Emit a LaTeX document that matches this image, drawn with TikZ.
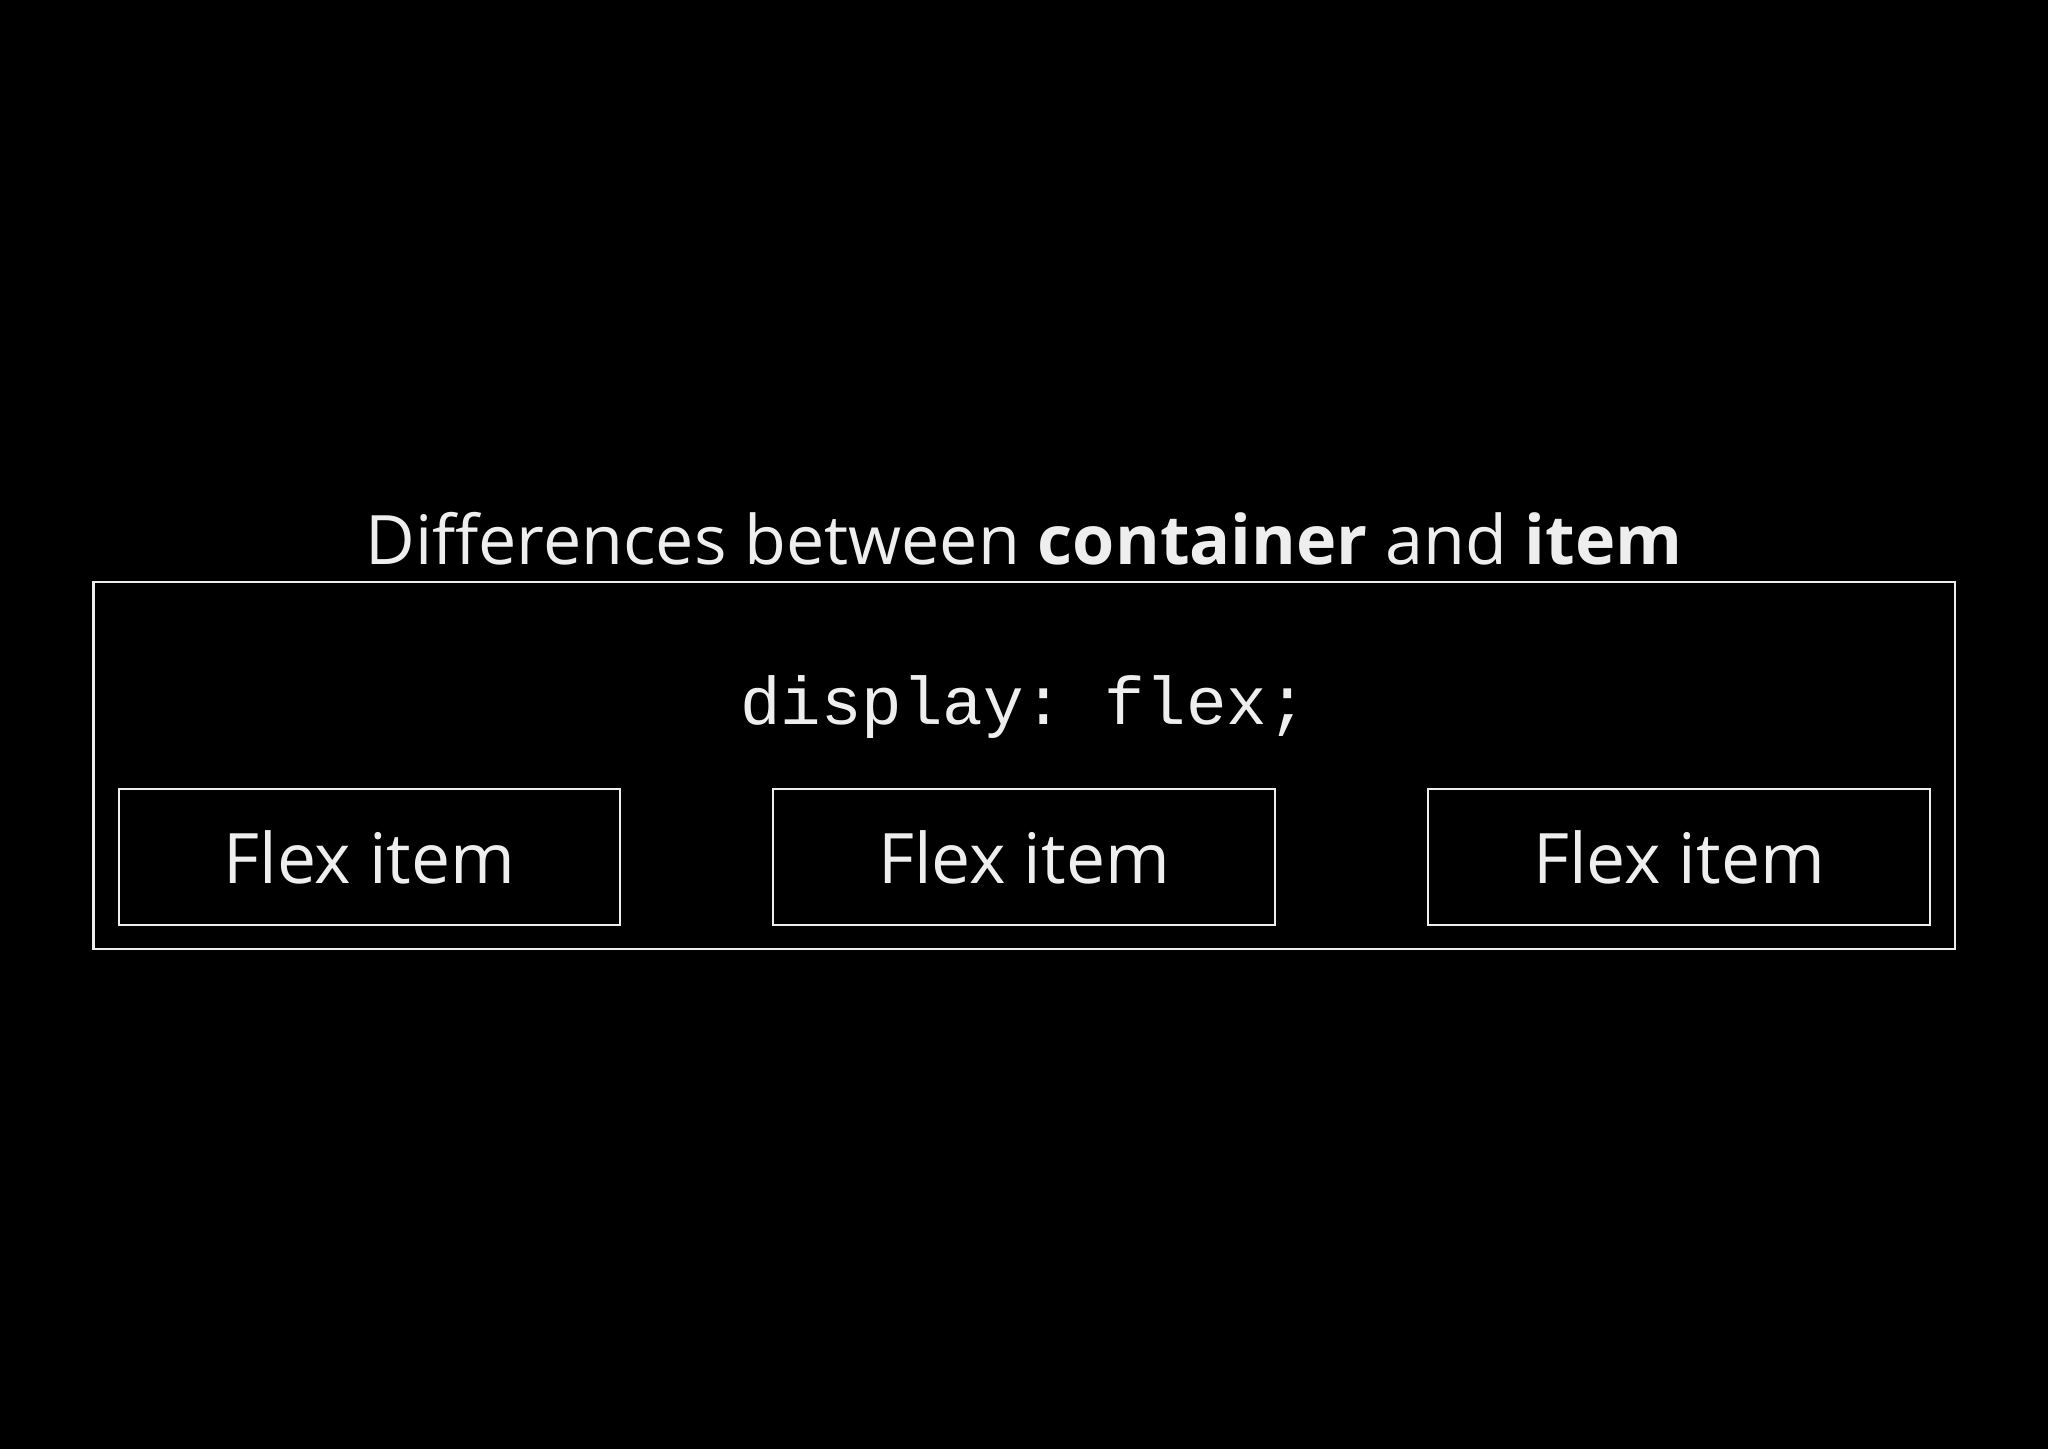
\documentclass[tikz,border=0pt]{standalone}
\usepackage{fontspec}
\setmainfont{Open Sans}
\setmonofont{Liberation Mono}
\usepackage{tikz}
\usetikzlibrary{positioning}
\definecolor{trait}{HTML}{EEEEEE}

\begin{document}
\begin{tikzpicture}[x=0.01cm,y=-0.01cm,
    itembox/.style={draw=trait, line width=0.6pt, minimum width=5.01cm, minimum height=1.36cm,
      inner sep=0pt, text=trait, font=\fontsize{19.8}{24}\selectfont},
    boite/.style={draw=trait, line width=0.6pt, minimum width=18.6cm, minimum height=3.67cm, inner sep=0pt}]

        % Fond noir et cadre de l'image
        \fill[black] (0,0) rectangle (2048,1449);

        % Le conteneur
        \node[boite] (container) at (1024,765.5) {};

        % Titre au-dessus du conteneur
        \node[anchor=base, text=trait, inner sep=0pt, font=\fontsize{19.4}{24}\selectfont]
            (titre) at (1024,564) {Differences between \textbf{container} and \textbf{item}};

        % La propriete CSS
        \node[anchor=base, text=trait, inner sep=0pt, font=\ttfamily\fontsize{19.2}{22}\selectfont]
            (code) at (1024,725) {display: flex;};

        % Les trois elements
        \node[itembox] (item1) at (369.5,857) {Flex item};
        \node[itembox] (item2) at (1024,857) {Flex item};
        \node[itembox] (item3) at (1679,857) {Flex item};
    \end{tikzpicture}
\end{document}
